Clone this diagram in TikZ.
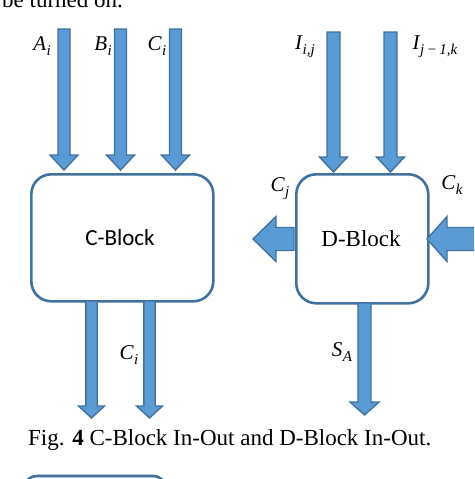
\documentclass[tikz,border=0pt]{standalone}
\usepackage{fontspec}
\setmainfont{Liberation Serif}
\newfontfamily\calfont{Carlito}
\definecolor{arrfill}{HTML}{5B9BD5}
\definecolor{arrline}{HTML}{41719C}
\definecolor{boxline}{HTML}{41719C}
\tikzset{
  blockbox/.style={draw=boxline, line width=2.6pt, rounded corners=20pt, fill=white},
  barrow/.style={fill=arrfill, draw=arrline, line width=1.4pt, line join=miter},
  lbl/.style={inner sep=0pt, font=\fontsize{21}{24}\selectfont\itshape},
}
\newcommand\lab[2]{#1\kern0.5pt\raisebox{-5pt}{\fontsize{15}{16}\selectfont #2}}
% down arrow: cx, top, headbase, tip, halfshaft, halfhead
\newcommand\dnarrow[6]{%
  \draw[barrow] (#1-#5,#2) -- (#1+#5,#2) -- (#1+#5,#3) -- (#1+#6,#3) -- (#1,#4)
    -- (#1-#6,#3) -- (#1-#5,#3) -- cycle;}
% horizontal arrow: cy, tail, headbase, tip, halfshaft, halfhead
\newcommand\hzarrow[6]{%
  \draw[barrow] (#2,#1-#5) -- (#3,#1-#5) -- (#3,#1-#6) -- (#4,#1) -- (#3,#1+#6)
    -- (#3,#1+#5) -- (#2,#1+#5) -- cycle;}
\begin{document}
\begin{tikzpicture}[x=1pt,y=-1pt]
\useasboundingbox (0,0) rectangle (474,479);
\clip (0,0) rectangle (474,479);
\fill[white] (0,0) rectangle (474,479);
% partial text at top
\node[anchor=base west, inner sep=0pt, font=\fontsize{23}{27}\selectfont] (toptext) at (2,8) {be turned on.};
% blocks
\node[blockbox, minimum width=182pt, minimum height=127pt, anchor=north west] (cb) at (30,173) {};
\node[blockbox, minimum width=132pt, minimum height=129pt, anchor=north west] (db) at (295,173) {};
\node[anchor=base, inner sep=0pt, font=\calfont\fontsize{23}{27}\selectfont] (cbt) at (120,245) {C-Block};
\node[anchor=base, inner sep=0pt, font=\fontsize{23}{27}\selectfont] (dbt) at (361,246) {D-Block};
% input arrows of C-Block
\dnarrow{64}{29}{155}{170}{6}{14}
\dnarrow{120.5}{29}{155}{170}{6}{14}
\dnarrow{175.5}{29}{155}{170}{6}{14}
% output arrows of C-Block
\dnarrow{91.5}{301}{406}{418}{5.7}{13}
\dnarrow{149.5}{301}{406}{418}{5.7}{13}
% input arrows of D-Block
\dnarrow{333.5}{32}{157}{172}{6.5}{14}
\dnarrow{390.5}{32}{157}{172}{6.5}{14}
% output arrow of D-Block
\dnarrow{364.5}{303}{402}{415}{6.5}{14.5}
% horizontal arrows
\hzarrow{239}{294}{276}{253}{11.5}{22.5}
\hzarrow{239}{480}{447}{427}{11.5}{22.5}
% labels
\node[lbl] (la) at (42,46) {\lab{A}{i}};
\node[lbl] (lb) at (103,46) {\lab{B}{i}};
\node[lbl] (lc) at (157,46) {\lab{C}{i}};
\node[lbl] (li1) at (305,47) {\lab{I}{i,j}};
\node[lbl] (li2) at (435,47) {\lab{I}{j\,−\,1,k}};
\node[lbl] (lcj) at (280,189) {\lab{C}{j}};
\node[lbl] (lck) at (452,185) {\lab{C}{k}};
\node[lbl] (lci) at (129,355) {\lab{C}{i}};
\node[lbl] (lsa) at (342,352) {\lab{S}{A}};
% caption
\node[anchor=base west, inner sep=0pt, font=\fontsize{23}{27}\selectfont] (cap) at (28,445) {Fig. \textbf{4} C-Block In-Out and D-Block In-Out.};
% partial box at bottom
\draw[draw=boxline, line width=2.6pt, rounded corners=14pt] (23,476) rectangle (167,520);
\end{tikzpicture}
\end{document}
